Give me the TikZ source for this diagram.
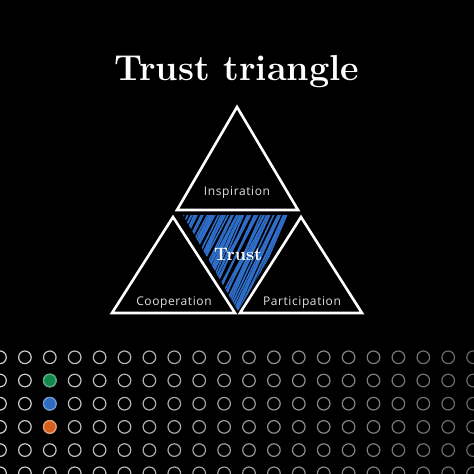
\documentclass[tikz,border=0pt]{standalone}
\usepackage{fontspec}
\usepackage{tikz}
\newfontfamily\labelfont[LetterSpace=5]{Open Sans}
\definecolor{trustblue}{HTML}{2F6EC8}
\definecolor{dotgreen}{HTML}{138A4B}
\definecolor{dotblue}{HTML}{2D6CC0}
\definecolor{dotorange}{HTML}{D55E1C}
\tikzset{
  tri/.style={draw=white, line width=2.6pt, line join=miter},
  lbl/.style={text=white!88!black, font=\labelfont\fontsize{12}{14}\selectfont},
  dot/.style={line width=1.2pt},
}

\begin{document}
\begin{tikzpicture}[x=1pt,y=-1pt]
\fill[black] (0,0) rectangle (474,474);
\useasboundingbox (0,0) rectangle (474,474);

\path (237,72) node (title) {\textcolor{white}{\bfseries\fontsize{36}{38}\selectfont Trust triangle}}
      (237,193) node[lbl] (insp) {Inspiration}
      (174,303) node[lbl] (coop) {Cooperation}
      (302,303) node[lbl] (part) {Participation};

\coordinate (a1) at (237,107);
\coordinate (a2) at (177,210);
\coordinate (a3) at (298,210);
\coordinate (b1) at (173,217);
\coordinate (b2) at (112,313);
\coordinate (b3) at (235,313);
\coordinate (c1) at (301,217);
\coordinate (c2) at (240,313);
\coordinate (c3) at (362,313);
\coordinate (t1) at (183,215);
\coordinate (t2) at (294,215);
\coordinate (t3) at (238,311);

\begin{scope}
\clip (t1) -- (t2) -- (t3) -- cycle;
\pgfmathsetseed{7}
\foreach \i in {0,...,90}{
  \pgfmathsetmacro\xa{130+\i*2.0+rand*1.0}
  \pgfmathsetmacro\xb{\xa+52+rand*6}
  \draw[trustblue, line width=1.6pt] (\xa,318) -- (\xb,210);
}
\end{scope}
\path (238,254) node (trust) {\textcolor{white}{\bfseries\fontsize{18}{20}\selectfont Trust}};

\draw[tri] (a1) -- (a2) -- (a3) -- cycle;
\draw[tri] (b1) -- (b2) -- (b3) -- cycle;
\draw[tri] (c1) -- (c2) -- (c3) -- cycle;

\foreach \k in {0,...,19}{
  \pgfmathsetmacro\shade{82-2.2*\k}
  \foreach \r in {0,...,5}{
    \draw[dot, draw=white!\shade!black] (24.9*\k,357.3+23.2*\r) circle (6.3);
  }
}
\fill[dotgreen, draw=dotgreen!70!white, dot] (49.8,380.5) circle (6.3);
\fill[dotblue, draw=dotblue!70!white, dot] (49.8,403.7) circle (6.3);
\fill[dotorange, draw=dotorange!60!white, dot] (49.8,426.9) circle (6.3);
\end{tikzpicture}
\end{document}
